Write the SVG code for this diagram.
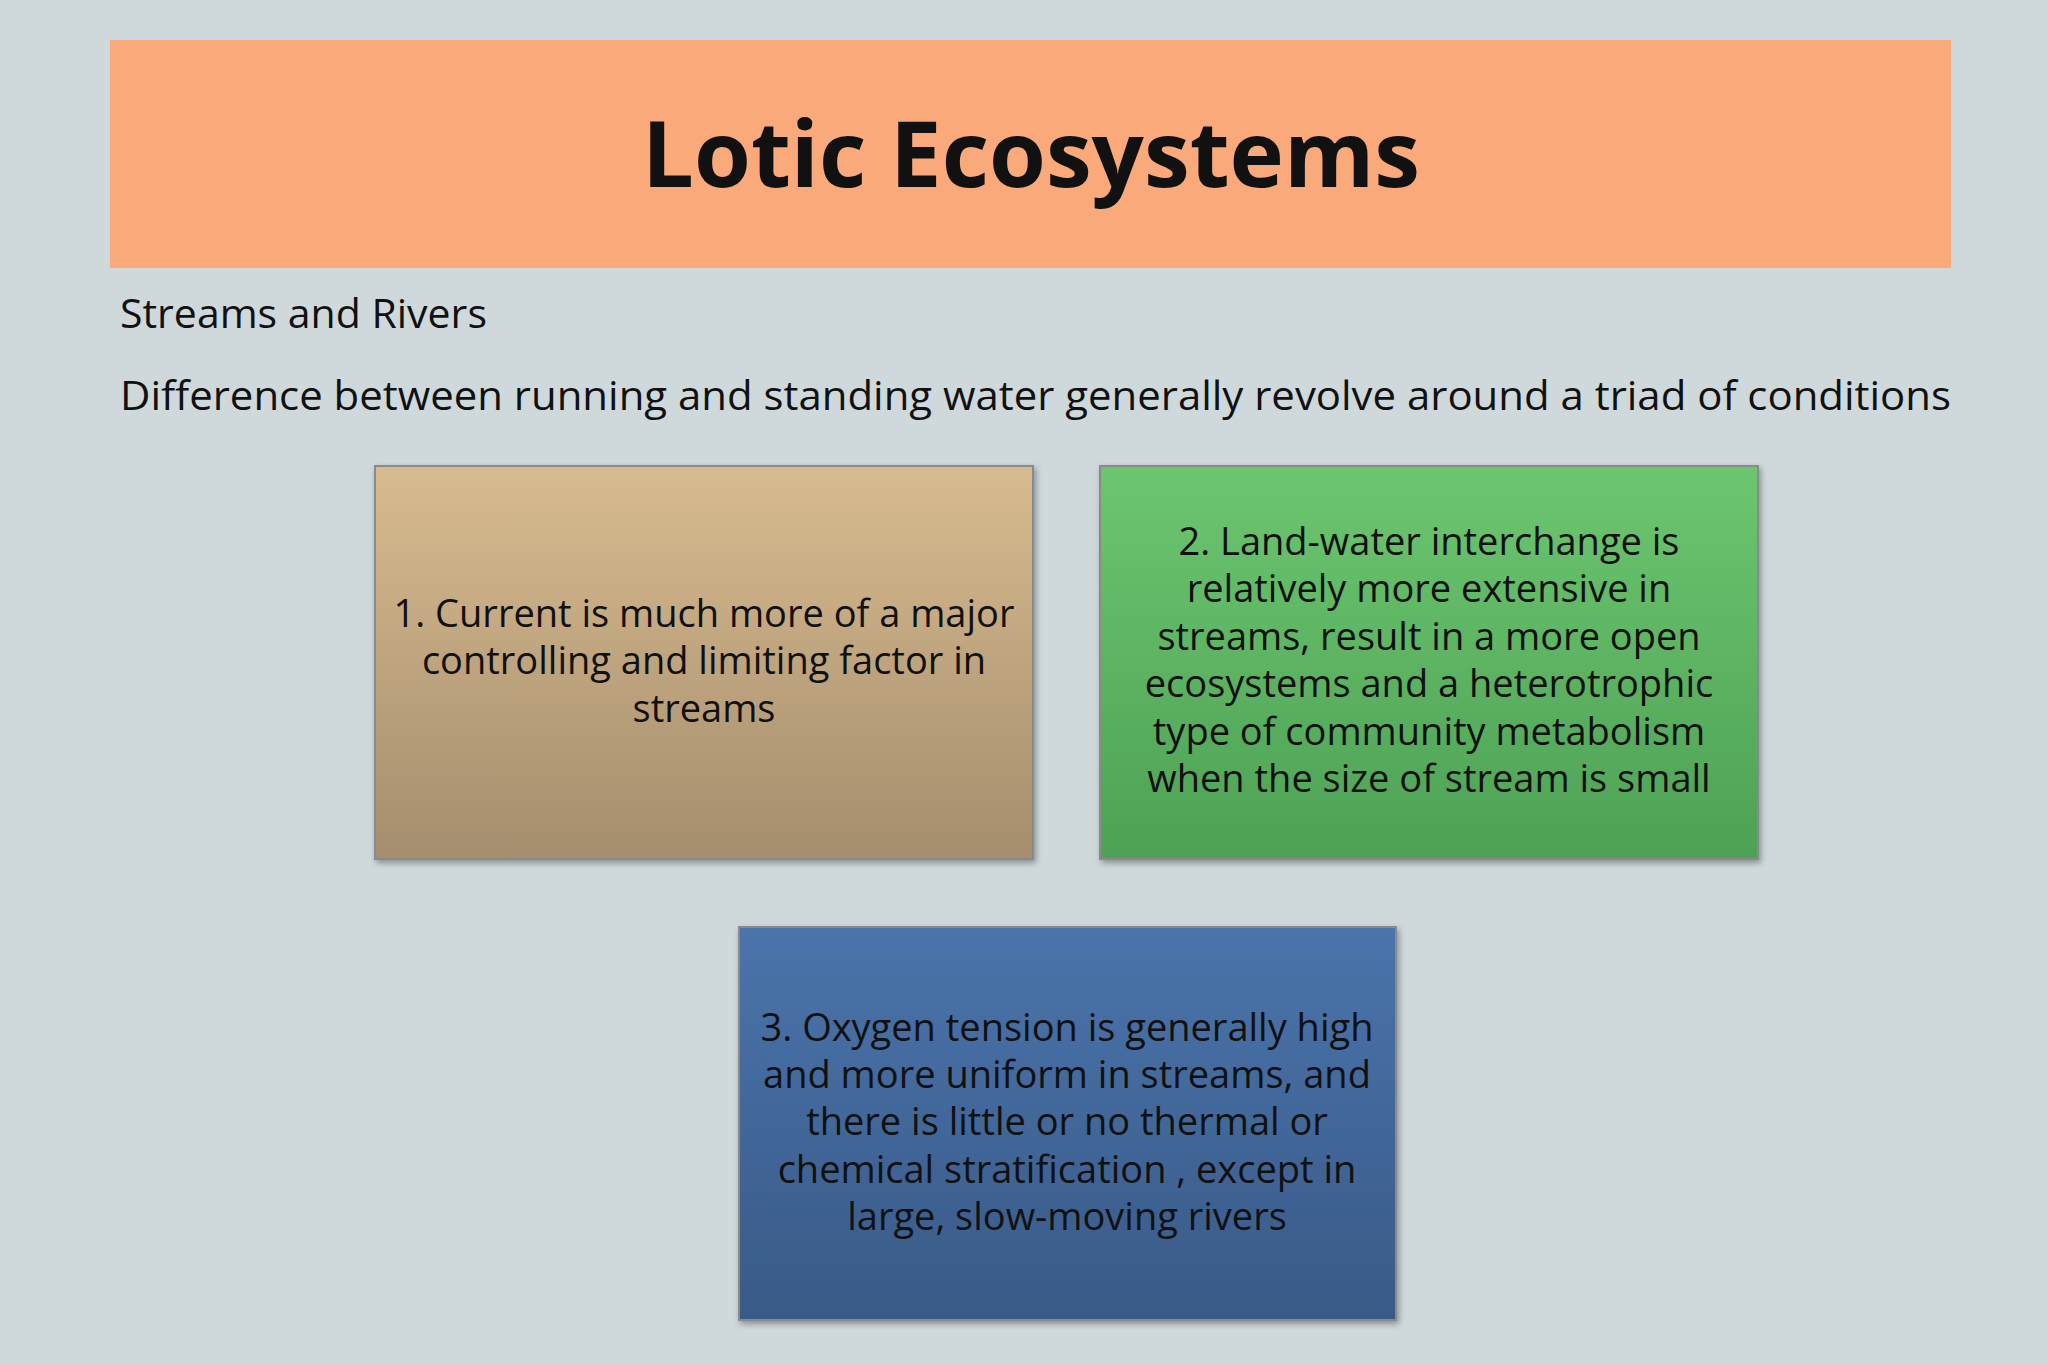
<svg xmlns="http://www.w3.org/2000/svg" width="2048" height="1365" viewBox="0 0 2048 1365">
<style>
text{font-family:"Open Sans","Liberation Sans",sans-serif;fill:#111}
.b{font-size:38px;text-anchor:middle}
.s{font-size:41px}
.box{stroke:#8a8a8a;stroke-width:2}
</style>
<defs>
<linearGradient id="g1" x1="0" y1="0" x2="0" y2="1"><stop offset="0" stop-color="#d8bb8f"/><stop offset="1" stop-color="#a58e6e"/></linearGradient>
<linearGradient id="g2" x1="0" y1="0" x2="0" y2="1"><stop offset="0" stop-color="#6cc66f"/><stop offset="1" stop-color="#4ea155"/></linearGradient>
<linearGradient id="g3" x1="0" y1="0" x2="0" y2="1"><stop offset="0" stop-color="#4a74ab"/><stop offset="1" stop-color="#395a87"/></linearGradient>
<filter id="sh"><feDropShadow dx="2" dy="3" stdDeviation="3" flood-opacity="0.35"/></filter>
</defs>
<rect width="2048" height="1365" fill="#cfd9dc"/>
<rect x="110" y="40" width="1841" height="228" fill="#f9a97a"/>
<text x="1031" y="187" font-size="92" font-weight="bold" text-anchor="middle">Lotic Ecosystems</text>
<text x="120" y="328" class="s">Streams and Rivers</text>
<text x="120" y="410" class="s" textLength="1831" lengthAdjust="spacingAndGlyphs">Difference between running and standing water generally revolve around a triad of conditions</text>
<g id="box1">
<rect class="box" x="375" y="466" width="658" height="393" fill="url(#g1)" filter="url(#sh)"/>
<text class="b"><tspan x="704" y="627">1. Current is much more of a major</tspan><tspan x="704" y="674">controlling and limiting factor in</tspan><tspan x="704" y="722">streams</tspan></text>
</g>
<g id="box2">
<rect class="box" x="1100" y="466" width="658" height="393" fill="url(#g2)" filter="url(#sh)"/>
<text class="b"><tspan x="1429" y="555">2. Land-water interchange is</tspan><tspan x="1429" y="602">relatively more extensive in</tspan><tspan x="1429" y="650">streams, result in a more open</tspan><tspan x="1429" y="697">ecosystems and a heterotrophic</tspan><tspan x="1429" y="745">type of community metabolism</tspan><tspan x="1429" y="792">when the size of stream is small</tspan></text>
</g>
<g id="box3">
<rect class="box" x="739" y="927" width="657" height="393" fill="url(#g3)" filter="url(#sh)"/>
<text class="b"><tspan x="1067" y="1041">3. Oxygen tension is generally high</tspan><tspan x="1067" y="1088">and more uniform in streams, and</tspan><tspan x="1067" y="1135">there is little or no thermal or</tspan><tspan x="1067" y="1183">chemical stratification , except in</tspan><tspan x="1067" y="1230">large, slow-moving rivers</tspan></text>
</g>
<g id="connectors"/>
</svg>
